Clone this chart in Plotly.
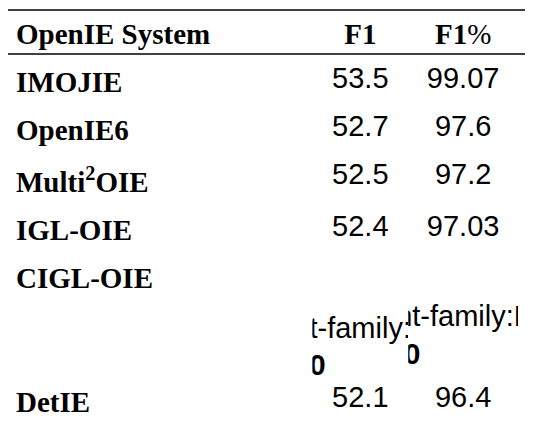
import plotly.graph_objects as go

systems = ["IMOJIE", "OpenIE6", "Multi<sup>2</sup>OIE", "IGL-OIE", "CIGL-OIE",
           "DetIE", "GEN2OIE", "OK-IE (Ours)"]
f1 = ["53.5", "52.7", "52.5", "52.4", "54.0", "52.1", "51.1", "53.2"]
f1_pct = ["99.07", "97.6", "97.2", "97.03", "100", "96.4", "94.6", "98.5"]
best = "CIGL-OIE"

serif = "Liberation Serif"
sans = "Liberation Sans"


def fmt(s, v):
    if s == best:
        return '<span style="font-family:%s"><b>%s</b></span>' % (serif, v)
    return v


name_col = ["<b>%s</b>" % s for s in systems]
f1_col = [fmt(s, v) for s, v in zip(systems, f1)]
pct_col = [fmt(s, v) for s, v in zip(systems, f1_pct)]

W, H = 533, 429
fig = go.Figure(go.Table(
    domain=dict(x=[0, 511 / W], y=[0, 1 - 2 / H]),
    columnwidth=[305, 96, 110],
    header=dict(
        values=["<b>OpenIE System</b>", "<b>F1</b>", "<b>F1</b>%"],
        align=["left", "center", "center"],
        font=dict(family=serif, size=29, color="black"),
        height=44, fill_color="white", line=dict(width=0, color="white"),
    ),
    cells=dict(
        values=[name_col, f1_col, pct_col],
        align=["left", "center", "center"],
        font=dict(family=[serif, sans, sans], size=29, color="black"),
        height=46, fill_color="white", line=dict(width=0, color="white"),
    ),
))

for y in [2, 46, 426]:
    fig.add_shape(type="line", xref="paper", yref="paper",
                  x0=0, x1=1, y0=1 - y / H, y1=1 - y / H,
                  line=dict(color="black", width=1.5))

fig.update_layout(width=W, height=H, margin=dict(l=0, r=0, t=0, b=0),
                  paper_bgcolor="white", plot_bgcolor="white")
fig.write_html("out.html")
